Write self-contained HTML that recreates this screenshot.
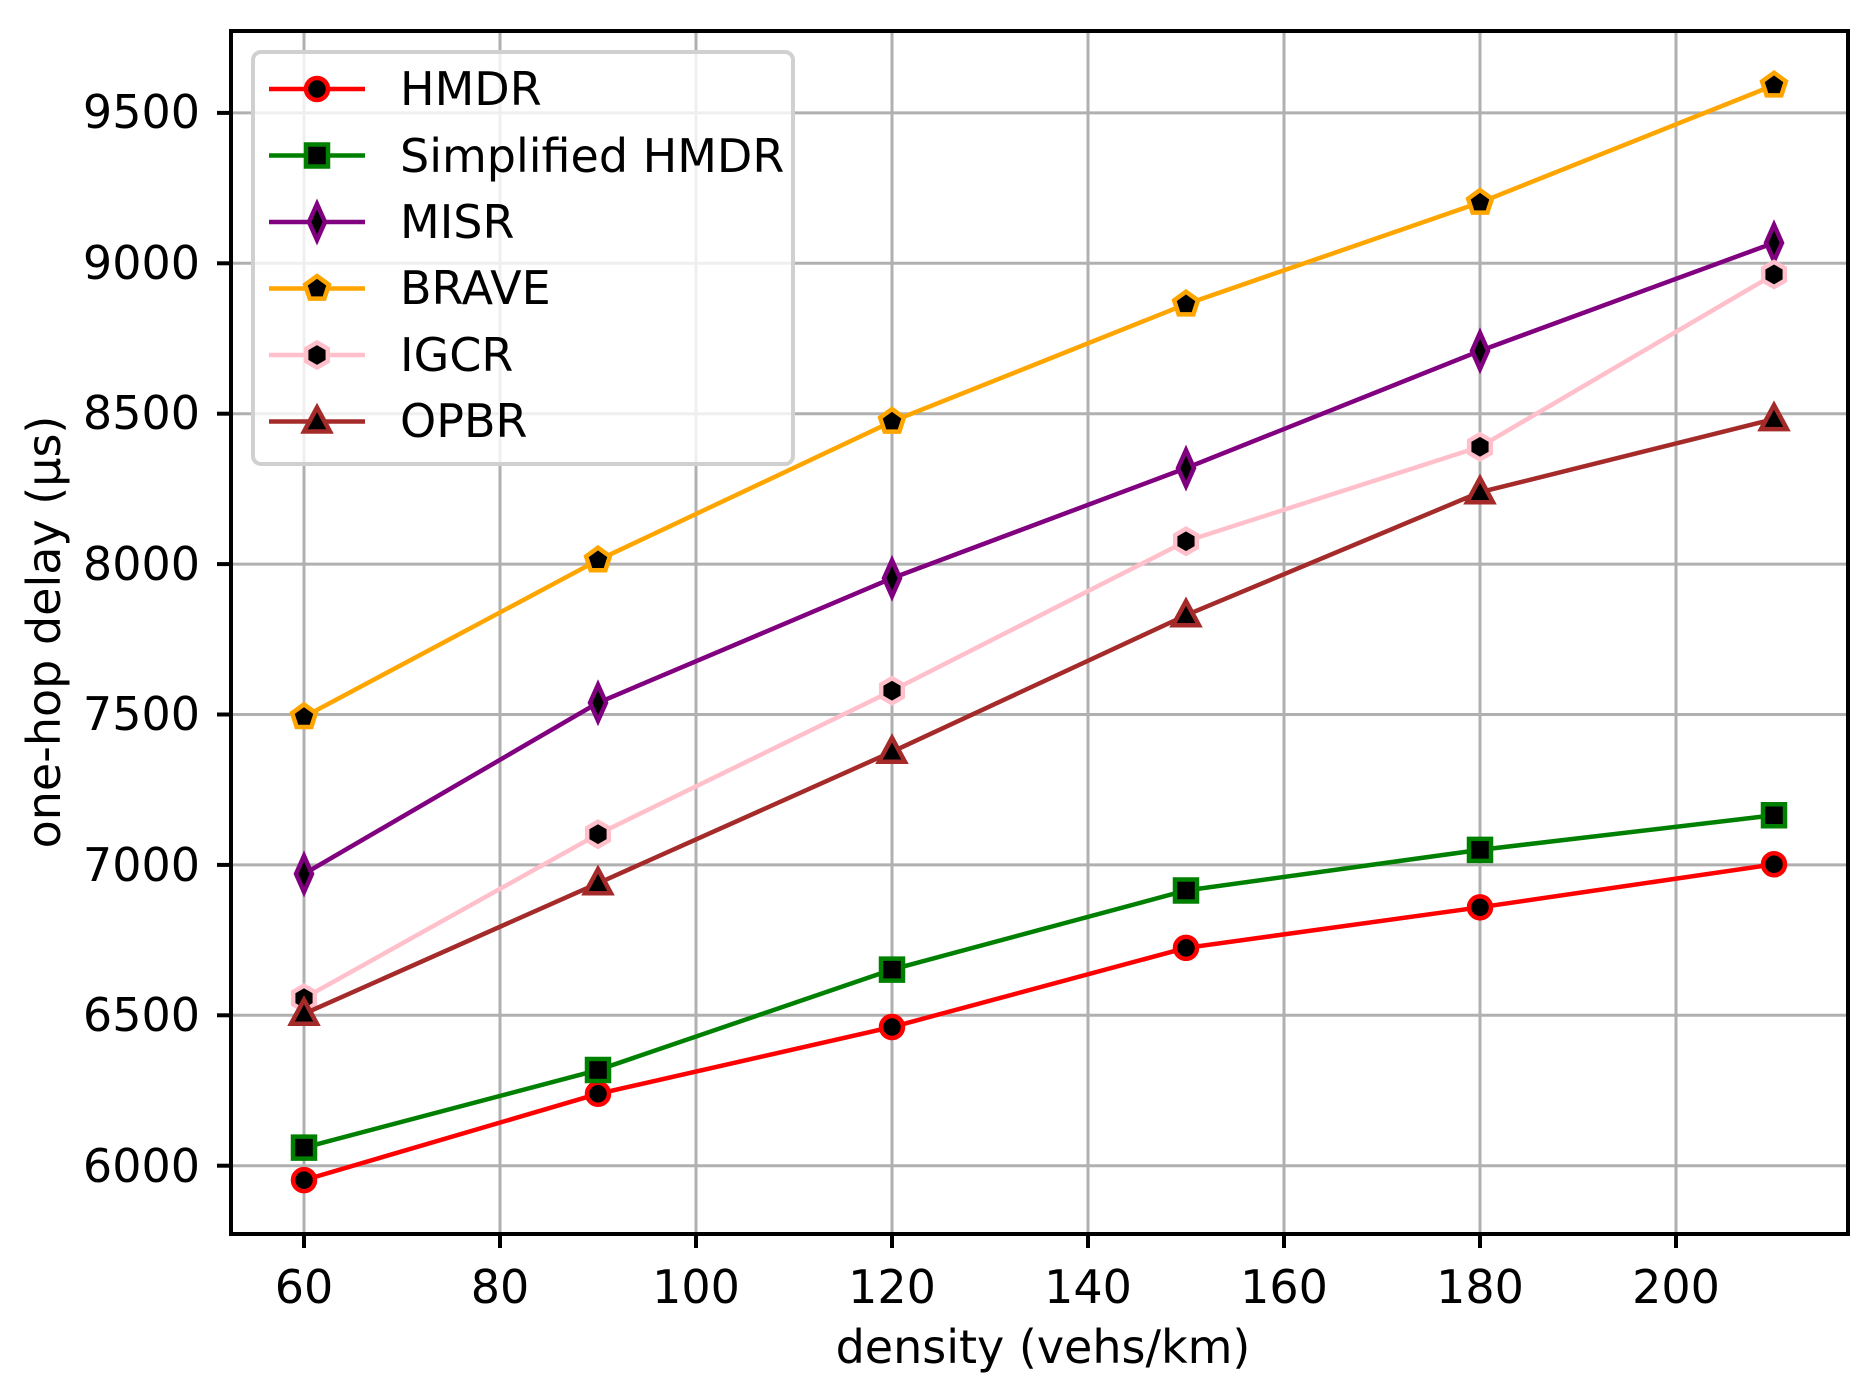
<!DOCTYPE html>
<html><head><meta charset="utf-8"><style>
html,body{margin:0;padding:0;background:#fff}
svg{display:block}
text{font-family:"DejaVu Sans","Liberation Sans",sans-serif;fill:#000}
</style></head><body>
<svg id="s" width="1875" height="1393" viewBox="0 0 1875 1393" xmlns="http://www.w3.org/2000/svg">
<rect width="1875" height="1393" fill="#fff"/>
<g id="grid" stroke="#b0b0b0" stroke-width="3"></g>
<g id="series"></g>
<rect x="231" y="31" width="1617" height="1203" fill="none" stroke="#000" stroke-width="4"/>
<g id="ticks" stroke="#000" stroke-width="4"></g>
<g font-size="46" text-anchor="middle">
<text x="304" y="1303">60</text><text x="500" y="1303">80</text><text x="696" y="1303">100</text>
<text x="892" y="1303">120</text><text x="1088" y="1303">140</text><text x="1284" y="1303">160</text>
<text x="1480" y="1303">180</text><text x="1676" y="1303">200</text>
</g>
<g font-size="46" text-anchor="end">
<text x="200" y="1182">6000</text><text x="200" y="1031">6500</text><text x="200" y="881">7000</text>
<text x="200" y="730">7500</text><text x="200" y="580">8000</text><text x="200" y="429">8500</text>
<text x="200" y="279">9000</text><text x="200" y="128">9500</text>
</g>
<text x="1043" y="1363" font-size="46" text-anchor="middle">density (vehs/km)</text>
<text transform="translate(60,632) rotate(-90)" font-size="46" text-anchor="middle">one-hop delay (µs)</text>
<rect x="253" y="52" width="540" height="412" rx="8" fill="#fff" fill-opacity="0.8" stroke="#d0d0d0" stroke-width="4"/>
<g id="legend"></g>
<g font-size="46">
<text x="400" y="105">HMDR</text>
<text x="400" y="172">Simplified HMDR</text>
<text x="400" y="238">MISR</text>
<text x="400" y="304">BRAVE</text>
<text x="400" y="371">IGCR</text>
<text x="400" y="437">OPBR</text>
</g>
</svg>
<script>
var NS="http://www.w3.org/2000/svg";
function X(v){return 304+(v-60)*9.8;}
function Y(v){return 1165.7-(v-6000)*0.3008;}
function el(p,t,a){var e=document.createElementNS(NS,t);for(var k in a)e.setAttribute(k,a[k]);p.appendChild(e);return e;}
var g=document.getElementById('grid'),tk=document.getElementById('ticks');
for(var v=60;v<=200;v+=20){var x=X(v);el(g,'line',{x1:x,x2:x,y1:31,y2:1234});el(tk,'line',{x1:x,x2:x,y1:1234,y2:1248});}
for(var v=6000;v<=9500;v+=500){var y=Y(v);el(g,'line',{x1:231,x2:1848,y1:y,y2:y});el(tk,'line',{x1:217,x2:231,y1:y,y2:y});}
var xs=[60,90,120,150,180,210];
var S=[
 ['red','o',[5952,6239,6461,6724,6859,7002]],
 ['green','s',[6060,6318,6652,6915,7050,7165]],
 ['purple','d',[6970,7539,7953,8319,8709,9068]],
 ['orange','p',[7492,8013,8474,8864,9202,9592]],
 ['pink','h',[6557,7102,7579,8076,8390,8963]],
 ['brown','^',[6505,6939,7376,7830,8239,8482]]
];
function marker(p,type,cx,cy,col){
 var a={fill:'#000',stroke:col,'stroke-width':4.5};
 if(type=='o'){a.cx=cx;a.cy=cy;a.r=11;el(p,'circle',a);return;}
 var pts=[];
 if(type=='s'){pts=[[-11,-11],[11,-11],[11,11],[-11,11]];}
 else if(type=='d'){pts=[[0,-18],[8,0],[0,18],[-8,0]];}
 else if(type=='^'){pts=[[0,-14],[13,10],[-13,10]];}
 else{var n=type=='p'?5:6,r=12.5;for(var i=0;i<n;i++){var an=-Math.PI/2+i*2*Math.PI/n;pts.push([r*Math.cos(an),r*Math.sin(an)]);}}
 a.points=pts.map(function(q){return (cx+q[0])+','+(cy+q[1]);}).join(' ');
 el(p,'polygon',a);
}
var sg=document.getElementById('series'),lg=document.getElementById('legend');
S.forEach(function(s,i){
 var pts=xs.map(function(x,j){return X(x)+','+Y(s[2][j]);}).join(' ');
 el(sg,'polyline',{points:pts,fill:'none',stroke:s[0],'stroke-width':4.5,'stroke-linejoin':'round'});
 xs.forEach(function(x,j){marker(sg,s[1],X(x),Y(s[2][j]),s[0]);});
 var ly=89+i*66.5;
 el(lg,'line',{x1:269,x2:365,y1:ly,y2:ly,stroke:s[0],'stroke-width':4.5});
 marker(lg,s[1],317,ly,s[0]);
});
</script>
</body></html>
